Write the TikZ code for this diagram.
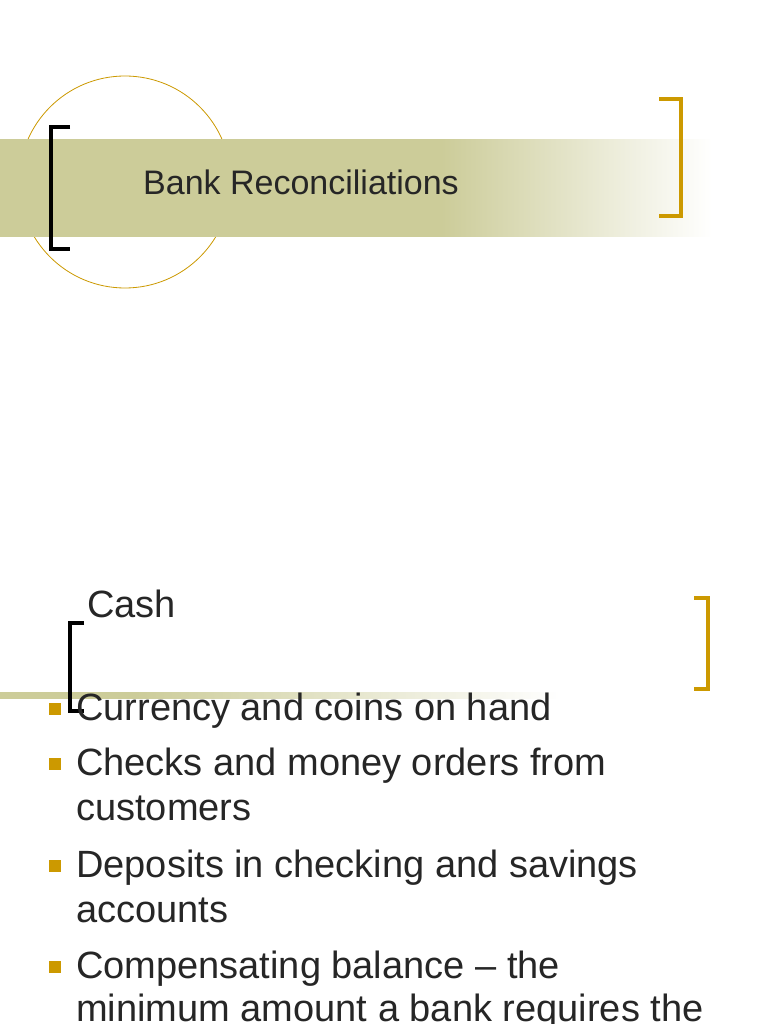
\documentclass[tikz,border=0pt]{standalone}
\usepackage{fontspec}
\setmainfont{Liberation Sans}
\begin{document}
\begin{tikzpicture}[x=1pt,y=-1pt,
  gold/.style={draw=gold, line width=4.5pt},
  blk/.style={draw=black, line width=4.5pt},
  bul/.style={fill=gold, minimum size=12pt, inner sep=0pt},
  txt/.style={anchor=base west, inner sep=0pt, font=\fontsize{38}{40}\selectfont, text=black!85}]
\definecolor{gold}{RGB}{204,153,0}
\definecolor{olive}{RGB}{204,204,153}
\pgfdeclarehorizontalshading{bandA}{100bp}{color(0bp)=(olive); color(56bp)=(olive); color(75bp)=(white); color(100bp)=(white)}
\pgfdeclarehorizontalshading{bandB}{100bp}{color(0bp)=(olive); color(37bp)=(olive); color(75bp)=(white); color(100bp)=(white)}
\useasboundingbox (0,0) rectangle (768,1024);
\fill[white] (0,0) rectangle (768,1024);
% slide 1
\draw[gold, line width=0.8pt] (125,182) circle (106);
\shade[shading=bandA] (0,140) rectangle (712,236);
\draw[blk] (70,127) -- (51,127) -- (51,249) -- (70,249);
\draw[gold] (659,99) -- (681,99) -- (681,216) -- (659,216);
\node[txt, font=\fontsize{34}{36}\selectfont] (t1) at (143,195) {Bank Reconciliations};
% slide 2
\shade[shading=bandB] (0,692) rectangle (560,698);
\draw[blk] (84,623) -- (70,623) -- (70,711) -- (84,711);
\draw[gold] (694,598) -- (708,598) -- (708,689) -- (694,689);
\node[txt] (cash) at (87,617) {Cash};
\node[bul] (b1) at (55,709) {};
\node[txt] (l1) at (76,720) {Currency and coins on hand};
\node[bul] (b2) at (55,764) {};
\node[txt] (l2) at (76,775) {Checks and money orders from};
\node[txt] (l2b) at (76,820) {customers};
\node[bul] (b3) at (55,866) {};
\node[txt] (l3) at (76,877) {Deposits in checking and savings};
\node[txt] (l3b) at (76,922) {accounts};
\node[bul] (b4) at (55,967) {};
\node[txt] (l4) at (76,978) {Compensating balance -- the};
\node[txt] (l4b) at (76,1021) {minimum amount a bank requires the};
\end{tikzpicture}
\end{document}
